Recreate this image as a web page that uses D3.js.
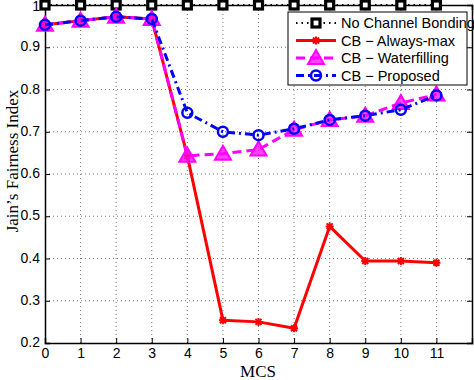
<!DOCTYPE html>
<html>
<head>
<meta charset="utf-8">
<script src="https://cdn.jsdelivr.net/npm/d3@7"></script>
<style>
  body { margin: 0; background: #fff; }
  svg { display: block; }
  .tick text { font-family: "Liberation Sans", Arial, sans-serif; font-size: 14px; fill: #000; }
</style>
</head>
<body>
<div id="chart"></div>
<script>
const mcs = [0, 1, 2, 3, 4, 5, 6, 7, 8, 9, 10, 11]
const noBonding = [1, 1, 1, 1, 1, 1, 1, 1, 1, 1, 1, 1]
const alwaysMax = [0.953, 0.963, 0.972, 0.967, 0.643, 0.254, 0.25, 0.235, 0.476, 0.394, 0.394, 0.39]
const waterfilling = [0.953, 0.963, 0.972, 0.967, 0.643, 0.648, 0.658, 0.705, 0.728, 0.738, 0.768, 0.788]
const proposed = [0.953, 0.963, 0.972, 0.967, 0.745, 0.7, 0.692, 0.707, 0.728, 0.738, 0.752, 0.786]
const xTicks = [0, 1, 2, 3, 4, 5, 6, 7, 8, 9, 10, 11]
const yTicks = [0.2, 0.3, 0.4, 0.5, 0.6, 0.7, 0.8, 0.9, 1]

const width = 474, height = 380
const margin = { top: 5, right: 2, bottom: 37, left: 45 }

const svg = d3.select('#chart').append('svg')
    .attr('width', width)
    .attr('height', height)

const x = d3.scaleLinear().domain([0, 12]).range([margin.left, width - margin.right])
const y = d3.scaleLinear().domain([0.2, 1]).range([height - margin.bottom, margin.top])

// grid
const grid = svg.append('g')
grid.selectAll('.vgrid').data(xTicks.slice(1))
    .enter().append('line')
        .attr('x1', d => x(d)).attr('x2', d => x(d))
        .attr('y1', y(0.2)).attr('y2', y(1))
        .attr('stroke', '#777').attr('stroke-width', 1).attr('stroke-dasharray', '1,3')
grid.selectAll('.hgrid').data(yTicks.slice(1, -1))
    .enter().append('line')
        .attr('x1', x(0)).attr('x2', x(12))
        .attr('y1', d => y(d)).attr('y2', d => y(d))
        .attr('stroke', '#777').attr('stroke-width', 1).attr('stroke-dasharray', '1,3')

// axes
svg.append('g')
    .attr('transform', `translate(0, ${y(0.2)})`)
    .call(d3.axisBottom(x).tickValues(xTicks).tickSize(-5).tickPadding(5).tickFormat(d3.format('d')))
svg.append('g')
    .attr('transform', `translate(${x(0)}, 0)`)
    .call(d3.axisLeft(y).tickValues(yTicks).tickSize(-5).tickPadding(5).tickFormat(d => d === 1 ? '1' : d3.format('.1f')(d)))
    .selectAll('.tick text').attr('dy', d => d === 1 ? '0.38em' : '0.25em')
svg.append('g')
    .attr('transform', `translate(0, ${y(1)})`)
    .call(d3.axisTop(x).tickValues(xTicks).tickSize(-5).tickFormat(''))
svg.append('g')
    .attr('transform', `translate(${x(12)}, 0)`)
    .call(d3.axisRight(y).tickValues(yTicks).tickSize(-5).tickFormat(''))
svg.selectAll('.domain').attr('stroke', '#000').attr('stroke-width', 1.5)
svg.selectAll('.tick line').attr('stroke', '#000')

const line = vals => d3.line().x((d, i) => x(mcs[i])).y(d => y(d))(vals)

const series = [
    { name: 'No Channel Bonding', values: noBonding, color: '#000', dash: '1.5,4', width: 2, marker: 'square' },
    { name: 'CB \u2212 Always-max', values: alwaysMax, color: '#f00', dash: null, width: 3, marker: 'star' },
    { name: 'CB \u2212 Waterfilling', values: waterfilling, color: '#f0f', dash: '9,5', width: 3, marker: 'triangle' },
    { name: 'CB \u2212 Proposed', values: proposed, color: '#00f', dash: '8,4,2,4', width: 3, marker: 'circle' },
]

function drawMarker(g, type, cx, cy, color) {
    if (type === 'square') {
        g.append('rect').attr('x', cx - 4).attr('y', cy - 4).attr('width', 8).attr('height', 8)
            .attr('fill', '#fff').attr('stroke', color).attr('stroke-width', 3.2)
    } else if (type === 'star') {
        g.append('path')
            .attr('d', `M${cx - 4},${cy}H${cx + 4}M${cx},${cy - 4}V${cy + 4}M${cx - 3},${cy - 3}L${cx + 3},${cy + 3}M${cx - 3},${cy + 3}L${cx + 3},${cy - 3}`)
            .attr('stroke', color).attr('stroke-width', 2).attr('fill', 'none')
    } else if (type === 'triangle') {
        g.append('path')
            .attr('d', `M${cx},${cy - 8}L${cx + 8},${cy + 6}L${cx - 8},${cy + 6}Z`)
            .attr('fill', color).attr('fill-opacity', 0.75).attr('stroke', color).attr('stroke-width', 2)
    } else if (type === 'circle') {
        g.append('circle').attr('cx', cx).attr('cy', cy).attr('r', 5)
            .attr('fill', 'none').attr('stroke', color).attr('stroke-width', 2.5)
    }
}

const plot = svg.append('g')
series.forEach(s => {
    const g = plot.append('g')
    g.append('path')
        .attr('d', line(s.values))
        .attr('fill', 'none')
        .attr('stroke', s.color)
        .attr('stroke-width', s.width)
        .attr('stroke-dasharray', s.dash)
        .attr('stroke-linejoin', 'round')
    s.values.forEach((v, i) => drawMarker(g, s.marker, x(mcs[i]), y(v), s.color))
})

// legend
const legend = svg.append('g').attr('transform', 'translate(288, 12)')
legend.append('rect').attr('width', 179).attr('height', 73)
    .attr('fill', '#fff').attr('stroke', '#000').attr('stroke-width', 1)
series.forEach((s, i) => {
    const ly = 11 + i * 17.5
    const lg = legend.append('g')
    lg.append('line').attr('x1', 8).attr('x2', 48).attr('y1', ly).attr('y2', ly)
        .attr('stroke', s.color).attr('stroke-width', s.width).attr('stroke-dasharray', s.dash)
    drawMarker(lg, s.marker, 28, ly, s.color)
    lg.append('text').attr('x', 53).attr('y', ly + 5)
        .attr('font-family', '"Liberation Sans", Arial, sans-serif').attr('font-size', 14.5)
        .text(s.name)
})

// labels
svg.append('text')
    .attr('transform', 'translate(18, 161) rotate(-90)')
    .attr('text-anchor', 'middle')
    .attr('font-family', '"Liberation Serif", "Times New Roman", serif').attr('font-size', 17)
    .text('Jain\u2019s Fairness Index')
svg.append('text')
    .attr('x', 258).attr('y', 377)
    .attr('text-anchor', 'middle')
    .attr('font-family', '"Liberation Serif", "Times New Roman", serif').attr('font-size', 17)
    .text('MCS')
</script>
</body>
</html>
